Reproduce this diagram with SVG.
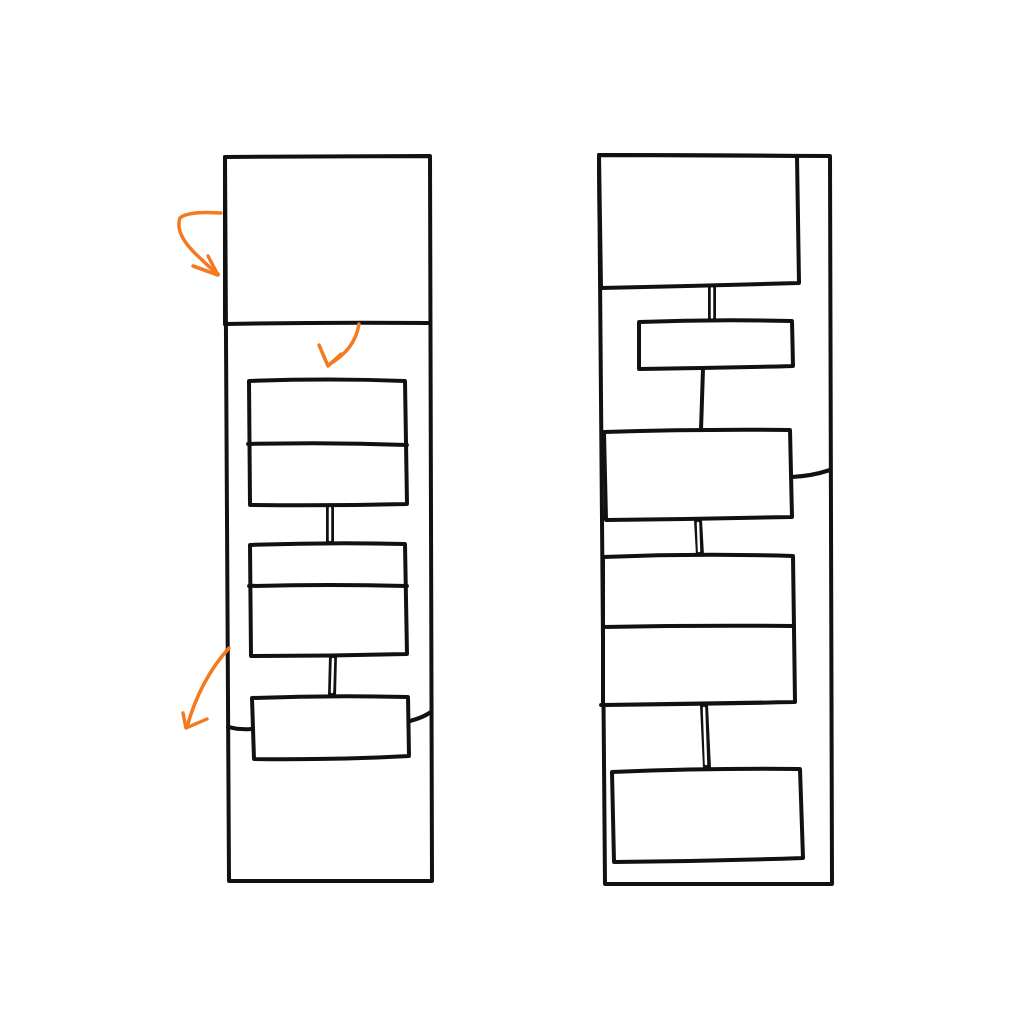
<svg xmlns="http://www.w3.org/2000/svg" width="1024" height="1024" viewBox="0 0 1024 1024">
<defs>
<style>
.k{fill:none;stroke:#111;stroke-width:4;stroke-linecap:round;stroke-linejoin:round}
.b{fill:#fff;stroke:#111;stroke-width:4;stroke-linecap:round;stroke-linejoin:round}
.d{fill:none;stroke:#111;stroke-width:8;stroke-linecap:round}
.dw{fill:none;stroke:#fff;stroke-width:2.5;stroke-linecap:round}
.o{fill:none;stroke:#f47a20;stroke-width:3.5;stroke-linecap:round;stroke-linejoin:round}
</style>
</defs>
<rect width="1024" height="1024" fill="#fff"/>

<g id="left-column">
<path class="b" d="M225 157 L430 156 L432 881 L229 881 Z"/>
<path class="k" d="M225 324 Q330 322 430 323"/>
</g>

<g id="right-column">
<path class="b" d="M599 155 L830 156 L832 884 L605 884 Z"/>
</g>

<g id="connectors">
<path class="d" d="M330 505 L330 543"/><path class="dw" d="M330 508 L330 540"/>
<path class="d" d="M333 656 L332 696"/><path class="dw" d="M333 659 L332 692"/>
<path class="k" d="M228 727 Q240 730 251 729"/>
<path class="k" d="M410 721 Q422 718 431 712"/>
<path class="d" d="M712 285 L712 321"/><path class="dw" d="M712 288 L712 318"/>
<path class="k" d="M703 369 L701 430"/>
<path class="k" d="M792 477 Q812 476 830 470"/>
<path class="d" d="M698 520 L700 555"/><path class="dw" d="M698 523 L699 551"/>
<path class="d" d="M704 705 L707 768"/><path class="dw" d="M704 708 L706 764"/>
</g>

<g id="left-top-box">
<path class="k" d="M225 157 L225 324"/>
</g>

<g id="left-box-a">
<path class="b" d="M249 381 Q330 378 405 381 L407 504 Q330 506 250 505 Z"/>
<path class="k" d="M248 444 Q330 442 407 445"/>
</g>

<g id="left-box-b">
<path class="b" d="M250 545 Q330 542 405 544 L407 654 Q330 656 251 656 Z"/>
<path class="k" d="M249 586 Q330 584 407 586"/>
</g>

<g id="left-box-c">
<path class="b" d="M252 698 Q330 695 408 697 L409 756 Q330 760 254 759 Z"/>
</g>

<g id="right-top-box">
<path class="b" d="M599 155 L797 156 L799 283 Q700 286 601 288 Z"/>
</g>

<g id="right-box-1">
<path class="b" d="M639 322 Q715 319 792 321 L793 366 Q715 368 639 369 Z"/>
</g>

<g id="right-box-2">
<path class="b" d="M604 432 Q700 429 790 430 L792 517 Q700 519 606 520 Z"/>
</g>

<g id="right-box-3">
<path class="b" d="M603 557 Q700 553 793 556 L795 702 Q700 704 603 705 Z"/>
<path class="k" d="M603 627 Q700 625 794 626"/>
<path class="k" d="M601 705 L604 705"/>
</g>

<g id="right-box-4">
<path class="b" d="M612 772 Q710 768 800 769 L803 858 Q710 861 614 862 Z"/>
</g>

<g id="orange-arrows">
<path class="o" d="M221 213 Q188 211 180 218 Q174 235 200 258 Q210 268 218 274"/>
<path class="o" d="M193 266 L218 275 L208 256"/>
<path class="o" d="M359 324 Q355 350 328 365"/>
<path class="o" d="M319 345 L328 366 L341 354"/>
<path class="o" d="M229 648 Q200 680 187 727"/>
<path class="o" d="M183 713 L186 728 L207 719"/>
</g>
</svg>
